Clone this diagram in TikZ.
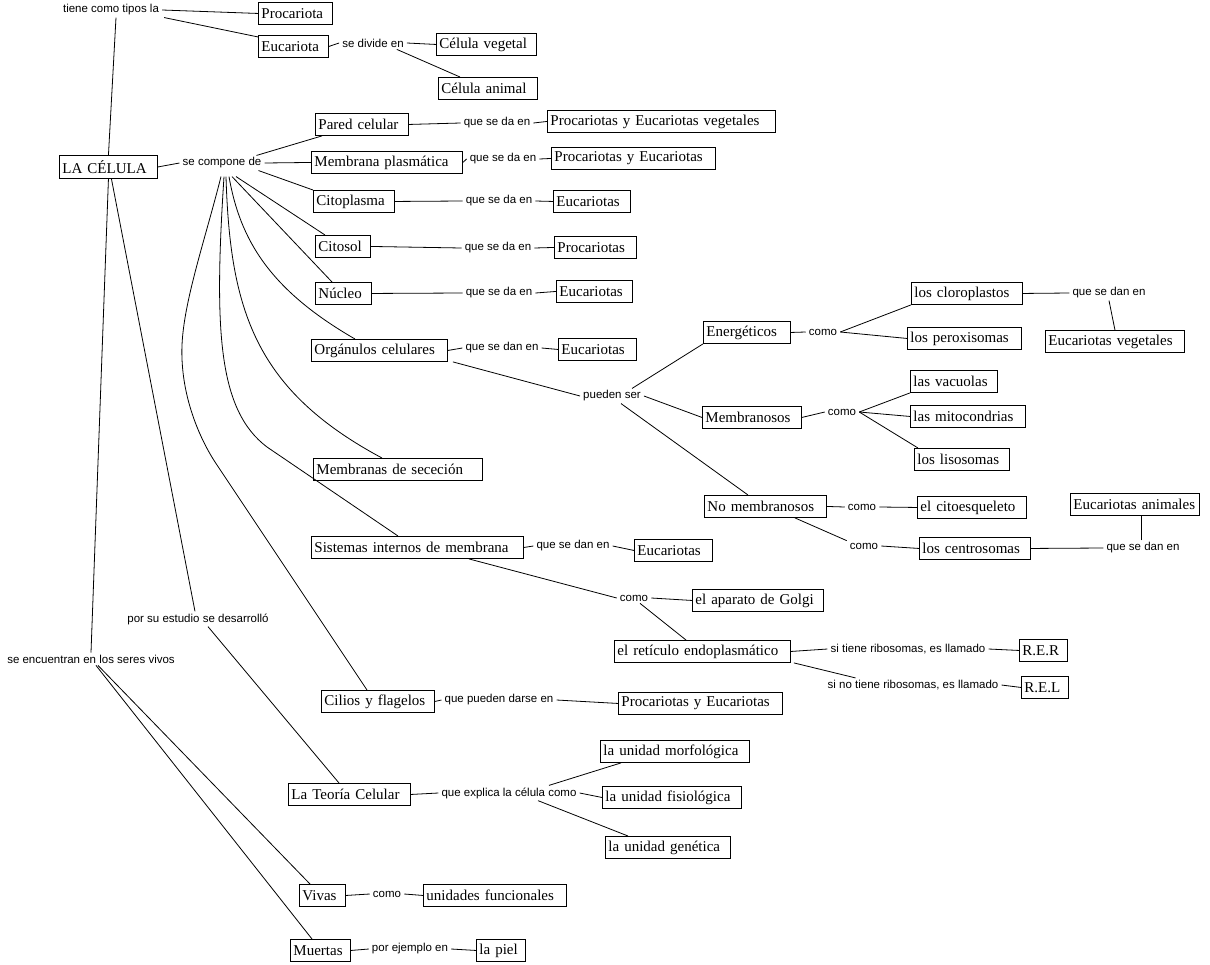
\documentclass[tikz,border=0pt]{standalone}
\usepackage{fontspec}
\setmainfont{Liberation Serif}
\newfontfamily\phrasefont{Liberation Sans}
\usepackage{tikz}
\usetikzlibrary{positioning}

\tikzset{
  concept/.style={draw, line width=0.9pt, anchor=north west, minimum height=22pt,
    inner xsep=3pt, inner ysep=0pt, align=left, font=\fontsize{15}{17}\selectfont},
  phrase/.style={inner xsep=3pt, inner ysep=2pt, font=\phrasefont\fontsize{11.5}{13}\selectfont},
  conn/.style={line width=0.8pt},
}

\begin{document}
\begin{tikzpicture}[x=1pt, y=-1pt]
        \path[use as bounding box, fill=white] (0,0) rectangle (1210,964);

        %---------------- Tipos ----------------%
        \node[phrase] (ltipos) at (111,10) {tiene como tipos la};
        \node[concept, text width=68pt] (proc) at (258,2) {Procariota};
        \node[concept, text width=64pt] (euca) at (258,35) {Eucariota};
        \node[phrase] (ldivide) at (373,43) {se divide en};
        \node[concept, text width=94pt] (cveg) at (436,33) {Célula vegetal};
        \node[concept, text width=93pt] (cani) at (438,77) {Célula animal};
        \draw[conn] (ltipos.east) -- (proc.west);
        \draw[conn] ([xshift=2pt]ltipos.south east) -- (euca.165);
        \draw[conn] (euca.east) -- (ldivide.west);
        \draw[conn] (ldivide.east) -- (cveg.west);
        \draw[conn] ([xshift=-10pt]ldivide.south east) -- ([xshift=22pt]cani.north west);

        %---------------- Centro ----------------%
        \node[concept, text width=92pt, minimum height=23pt] (celula) at (59,155) {LA CÉLULA};
        \node[phrase] (lcomp) at (222,163) {se compone de};
        \coordinate (fan) at ([yshift=-6pt]lcomp.south);
        \draw[conn] (celula.north) -- ([xshift=5pt]ltipos.south);
        \draw[conn] (celula.east) -- (lcomp.west);

        % componentes
        \node[concept, text width=87pt] (pared) at (315,113) {Pared celular};
        \node[concept, text width=145pt] (membp) at (311,151) {Membrana plasmática};
        \node[concept, text width=75pt] (citop) at (313,190) {Citoplasma};
        \node[concept, text width=49pt] (citos) at (315,235) {Citosol};
        \node[concept, text width=50pt] (nucleo) at (315,282) {Núcleo};
        \node[concept, text width=130pt] (organ) at (311,339) {Orgánulos celulares};
        \node[concept, text width=163pt] (memsec) at (313,458) {Membranas de sececión};
        \node[concept, text width=206pt] (sistemas) at (311,536) {Sistemas internos de membrana};
        \node[concept, text width=107pt] (cilios) at (321,690) {Cilios y flagelos};
        \draw[conn] (lcomp.east) -- (membp.west);
        \draw[conn] ([xshift=-8pt]lcomp.north east) -- ([xshift=7pt]pared.south west);
        \draw[conn] ([xshift=-6pt]lcomp.south east) -- (citop.north west);
        \draw[conn] ([xshift=14pt]fan) -- ([xshift=10pt]citos.north west);
        \draw[conn] ([xshift=10pt]fan) -- ([xshift=17pt]nucleo.north west);
        \draw[conn] ([xshift=7pt]fan) .. controls (240,240) and (270,290) .. ([xshift=44pt]organ.north west);
        \draw[conn] ([xshift=4pt]fan) .. controls (230,310) and (255,390) .. ([xshift=69pt]memsec.north west);
        \draw[conn] ([xshift=2pt]fan) .. controls (214,330) and (218,410) .. (267,447) -- ([xshift=87pt]sistemas.north west);
        \draw[conn] ([xshift=-1pt]fan) .. controls (205,240) and (184,300) .. (182,345) .. controls (180,395) and (200,440) .. (217,465) -- ([xshift=46pt]cilios.north west);

        % donde se dan
        \node[phrase] (lq1) at (497,123) {que se da en};
        \node[concept, text width=222pt] (pev) at (547,110) {Procariotas y Eucariotas vegetales};
        \node[phrase] (lq2) at (503,159) {que se da en};
        \node[concept, text width=158pt] (pe1) at (551,147) {Procariotas y Eucariotas};
        \node[phrase] (lq3) at (499,201) {que se da en};
        \node[concept, text width=71pt] (eu1) at (553,190) {Eucariotas};
        \node[phrase] (lq4) at (498,248) {que se da en};
        \node[concept, text width=76pt] (pro1) at (554,236) {Procariotas};
        \node[phrase] (lq5) at (499,293) {que se da en};
        \node[concept, text width=70pt] (eu2) at (556,280) {Eucariotas};
        \node[phrase] (lq6) at (502,348) {que se dan en};
        \node[concept, text width=72pt] (eu3) at (558,338) {Eucariotas};
        \draw[conn] (pared.east) -- (lq1.west);
        \draw[conn] (lq1.east) -- (pev.west);
        \draw[conn] (membp.east) -- (lq2.west);
        \draw[conn] (lq2.east) -- (pe1.west);
        \draw[conn] (citop.east) -- (lq3.west);
        \draw[conn] (lq3.east) -- (eu1.west);
        \draw[conn] (citos.east) -- (lq4.west);
        \draw[conn] (lq4.east) -- (pro1.west);
        \draw[conn] (nucleo.east) -- (lq5.west);
        \draw[conn] (lq5.east) -- (eu2.west);
        \draw[conn] (organ.east) -- (lq6.west);
        \draw[conn] (lq6.east) -- (eu3.west);

        %---------------- Organulos ----------------%
        \node[phrase] (lpueden) at (612,396) {pueden ser};
        \node[concept, text width=81pt] (energ) at (703,321) {Energéticos};
        \node[concept, text width=93pt] (membr) at (702,406) {Membranosos};
        \node[concept, text width=116pt] (nomem) at (704,495) {No membranosos};
        \draw[conn] ([xshift=5pt]organ.south east) -- (lpueden.west);
        \draw[conn] ([xshift=20pt]lpueden.north) -- (energ.south west);
        \draw[conn] (lpueden.east) -- (membr.west);
        \draw[conn] ([xshift=9pt]lpueden.south) -- ([xshift=44pt]nomem.north west);

        \node[phrase] (lcomo1) at (823,332) {como};
        \node[concept, text width=105pt] (clor) at (911,282) {los cloroplastos};
        \node[concept, text width=108pt] (perox) at (907,327) {los peroxisomas};
        \node[phrase] (lqclor) at (1109,293) {que se dan en};
        \node[concept, text width=133pt] (euveg) at (1045,330) {Eucariotas vegetales};
        \draw[conn] (energ.east) -- (lcomo1.west);
        \draw[conn] (lcomo1.east) -- (clor.south west);
        \draw[conn] (lcomo1.east) -- (perox.west);
        \draw[conn] (clor.east) -- (lqclor.west);
        \draw[conn] (lqclor.south) -- (euveg.north);

        \node[phrase] (lcomo2) at (842,412) {como};
        \node[concept, text width=81pt] (vac) at (910,370) {las vacuolas};
        \node[concept, text width=109pt] (mito) at (910,405) {las mitocondrias};
        \node[concept, text width=89pt] (liso) at (914,448) {los lisosomas};
        \draw[conn] (membr.east) -- (lcomo2.west);
        \draw[conn] (lcomo2.east) -- (vac.south west);
        \draw[conn] (lcomo2.east) -- (mito.west);
        \draw[conn] (lcomo2.east) -- ([xshift=4pt]liso.north west);

        \node[phrase] (lcomo3) at (862,507) {como};
        \node[concept, text width=103pt] (citoe) at (917,496) {el citoesqueleto};
        \node[phrase] (lcomo4) at (864,546) {como};
        \node[concept, text width=105pt] (centro) at (919,537) {los centrosomas};
        \node[phrase] (lqcentro) at (1143,548) {que se dan en};
        \node[concept, text width=123pt] (euani) at (1070,493) {Eucariotas animales};
        \draw[conn] (nomem.east) -- (lcomo3.west);
        \draw[conn] (lcomo3.east) -- (citoe.west);
        \draw[conn] ([xshift=-32pt]nomem.south east) -- (lcomo4.north west);
        \draw[conn] (lcomo4.east) -- (centro.west);
        \draw[conn] (centro.east) -- (lqcentro.west);
        \draw[conn] ([xshift=-2pt]lqcentro.north) -- ([xshift=-2pt]lqcentro.north |- euani.south);

        %---------------- Sistemas internos ----------------%
        \node[phrase] (lq7) at (573,546) {que se dan en};
        \node[concept, text width=72pt] (eu4) at (634,539) {Eucariotas};
        \node[phrase] (lcomo5) at (634,598) {como};
        \node[concept, text width=125pt] (golgi) at (692,589) {el aparato de Golgi};
        \node[concept, text width=170pt] (ret) at (614,640) {el retículo endoplasmático};
        \node[phrase] (lrib) at (908,649) {si tiene ribosomas, es llamado};
        \node[concept, text width=42pt] (rer) at (1019,639) {R.E.R};
        \node[phrase] (lnorib) at (913,685) {si no tiene ribosomas, es llamado};
        \node[concept, text width=41pt] (rel) at (1021,676) {R.E.L};
        \draw[conn] (sistemas.east) -- (lq7.west);
        \draw[conn] (lq7.east) -- (eu4.west);
        \draw[conn] ([xshift=-55pt]sistemas.south east) -- (lcomo5.west);
        \draw[conn] (lcomo5.east) -- (golgi.west);
        \draw[conn] ([xshift=6pt]lcomo5.south) -- ([xshift=72pt]ret.north west);
        \draw[conn] (ret.east) -- (lrib.west);
        \draw[conn] (lrib.east) -- (rer.west);
        \draw[conn] ([xshift=3pt]ret.south east) -- ([xshift=31pt]lnorib.north west);
        \draw[conn] (lnorib.east) -- (rel.west);

        \node[phrase] (ldarse) at (499,700) {que pueden darse en};
        \node[concept, text width=158pt] (pe2) at (618,692) {Procariotas y Eucariotas};
        \draw[conn] (cilios.east) -- (ldarse.west);
        \draw[conn] (ldarse.east) -- (pe2.west);

        %---------------- Teoria celular ----------------%
        \node[phrase] (lestudio) at (198,619) {por su estudio se desarrolló};
        \node[concept, text width=116pt] (teoria) at (288,783) {La Teoría Celular};
        \node[phrase] (lexplica) at (509,793) {que explica la célula como};
        \node[concept, text width=143pt] (morf) at (600,740) {la unidad morfológica};
        \node[concept, text width=133pt] (fisio) at (602,786) {la unidad fisiológica};
        \node[concept, text width=119pt] (gene) at (605,836) {la unidad genética};
        \draw[conn] ([xshift=3pt]celula.south) -- ([xshift=-3pt]lestudio.north);
        \draw[conn] ([xshift=10pt]lestudio.south) -- ([xshift=51pt]teoria.north west);
        \draw[conn] (teoria.east) -- (lexplica.west);
        \draw[conn] (lexplica.east) -- (fisio.west);
        \draw[conn] ([xshift=40pt]lexplica.north) -- ([xshift=21pt]morf.south west);
        \draw[conn] ([xshift=29pt]lexplica.south) -- ([xshift=23pt]gene.north west);

        %---------------- Seres vivos ----------------%
        \node[phrase] (lseres) at (91,659) {se encuentran en los seres vivos};
        \node[concept, text width=40pt] (vivas) at (299,884) {Vivas};
        \node[phrase] (lcomo6) at (387,894) {como};
        \node[concept, text width=137pt] (unif) at (423,884) {unidades funcionales};
        \node[concept, text width=54pt] (muertas) at (290,939) {Muertas};
        \node[phrase] (lejemplo) at (410,949) {por ejemplo en};
        \node[concept, text width=43pt] (piel) at (476,939) {la piel};
        \draw[conn] (celula.south) -- (lseres.north);
        \draw[conn] ([xshift=7pt]lseres.south) -- ([xshift=11pt]vivas.north west);
        \draw[conn] ([xshift=5pt]lseres.south) -- ([xshift=22pt]muertas.north west);
        \draw[conn] (vivas.east) -- (lcomo6.west);
        \draw[conn] (lcomo6.east) -- (unif.west);
        \draw[conn] (muertas.east) -- (lejemplo.west);
        \draw[conn] (lejemplo.east) -- (piel.west);
\end{tikzpicture}
\end{document}
